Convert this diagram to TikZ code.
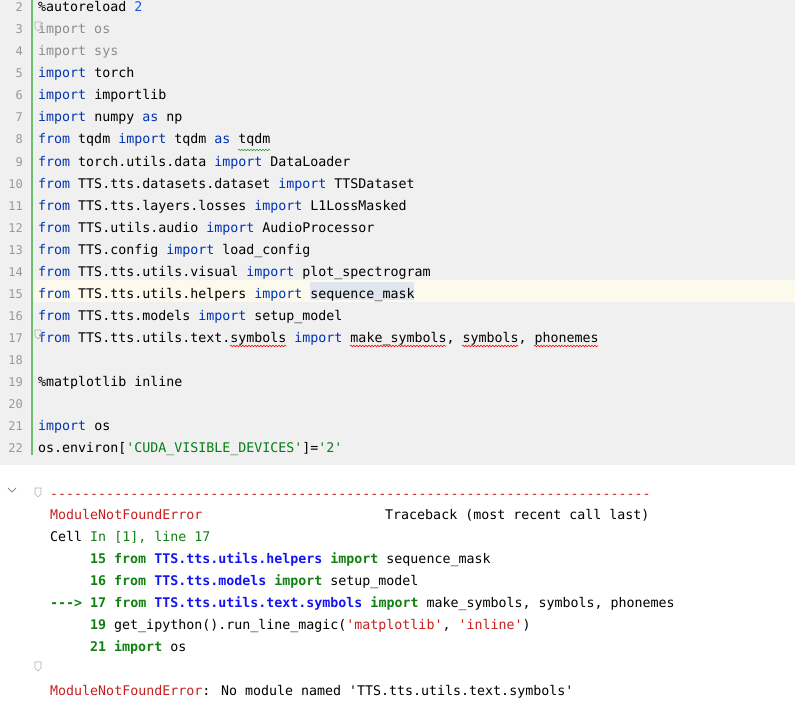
\documentclass[tikz,border=0pt]{standalone}
\usepackage{fontspec}
\newfontfamily\code{DejaVu Sans Mono}
\usetikzlibrary{decorations.pathmorphing}
\definecolor{bgc}{HTML}{F0F0F0}
\definecolor{kw}{HTML}{0033B3}
\definecolor{gr}{HTML}{8C8C8C}
\definecolor{num}{HTML}{1750EB}
\definecolor{str}{HTML}{067D17}
\definecolor{lno}{HTML}{999999}
\definecolor{hl}{HTML}{FCFAED}
\definecolor{selb}{HTML}{E1E5EE}
\definecolor{ored}{HTML}{C81E1E}
\definecolor{ogr}{HTML}{118011}
\definecolor{oblu}{HTML}{1414F0}
\definecolor{bar}{HTML}{6CBF6C}
\newcommand{\K}[1]{\textcolor{kw}{#1}}
\newcommand{\G}[1]{\textcolor{ogr}{\bfseries #1}}
\newcommand{\B}[1]{\textcolor{oblu}{\bfseries #1}}
\tikzset{x=1bp,y=-1bp,
 ln/.style={anchor=base east,text=lno,inner sep=0,font=\code\fontsize{12bp}{14bp}\selectfont},
 tx/.style={anchor=base west,inner sep=0,font=\code\fontsize{13.3bp}{22bp}\selectfont},
 wavyr/.style={draw=red,line width=0.6bp,decorate,decoration={snake,amplitude=0.8bp,segment length=3bp}},
 wavyg/.style={draw=ogr!80,line width=0.6bp,decorate,decoration={snake,amplitude=0.8bp,segment length=3bp}}}
\begin{document}
\begin{tikzpicture}
\useasboundingbox (0,0) rectangle (795,708);
\fill[bgc] (0,0) rectangle (795,465);
\fill[hl] (32,280) rectangle (795,302);
\fill[selb] (310,282) rectangle (414,300);
\fill[bar] (31,0) rectangle (33,455);
\foreach \n in {2,...,22}{\node[ln] (l\n) at (23,{7+(\n-2)*22+5}) {\n};}
\newcommand{\Ln}[2]{\node[tx] (c#1) at (38,{7+(#1-2)*22+5}) {#2};}
\Ln{2}{\%autoreload \textcolor{num}{2}}
\Ln{3}{\textcolor{gr}{import os}}
\Ln{4}{\textcolor{gr}{import sys}}
\Ln{5}{\K{import} torch}
\Ln{6}{\K{import} importlib}
\Ln{7}{\K{import} numpy \K{as} np}
\Ln{8}{\K{from} tqdm \K{import} tqdm \K{as} tqdm}
\Ln{9}{\K{from} torch.utils.data \K{import} DataLoader}
\Ln{10}{\K{from} TTS.tts.datasets.dataset \K{import} TTSDataset}
\Ln{11}{\K{from} TTS.tts.layers.losses \K{import} L1LossMasked}
\Ln{12}{\K{from} TTS.utils.audio \K{import} AudioProcessor}
\Ln{13}{\K{from} TTS.config \K{import} load\_config}
\Ln{14}{\K{from} TTS.tts.utils.visual \K{import} plot\_spectrogram}
\Ln{15}{\K{from} TTS.tts.utils.helpers \K{import} sequence\_mask}
\Ln{16}{\K{from} TTS.tts.models \K{import} setup\_model}
\Ln{17}{\K{from} TTS.tts.utils.text.symbols \K{import} make\_symbols, symbols, phonemes}
\Ln{19}{\%matplotlib inline}
\Ln{21}{\K{import} os}
\Ln{22}{os.environ[\textcolor{str}{'CUDA\_VISIBLE\_DEVICES'}]=\textcolor{str}{'2'}}
% wavy underlines
\draw[wavyg] (238,150) -- (270,150);
\foreach \a/\b in {230/286,350/446,462/518,534/598}{\draw[wavyr] (\a,346) -- (\b,346);}
% fold markers
\foreach \yy in {27,335,493,667}{\draw[gr!70,line width=0.6bp] (35,\yy-5) -- (41,\yy-5) -- (41,\yy+1) -- (38,\yy+4) -- (35,\yy+1) -- cycle;}
\draw[gr,line width=0.9bp] (8,488) -- (12,492) -- (16,488);
% output
\newcommand{\On}[4]{\node[tx] (o#1) at (#3,#2+5) {#4};}
\On{a}{493}{50}{\textcolor{ored}{---------------------------------------------------------------------------}}
\On{b}{514}{50}{\textcolor{ored}{ModuleNotFoundError}}
\On{c}{514}{385}{Traceback (most recent call last)}
\On{d}{536}{50}{Cell \textcolor{ogr}{In [1], line 17}}
\On{e}{558}{90}{\G{15} \G{from} \B{TTS.tts.utils.helpers} \G{import} sequence\_mask}
\On{f}{580}{90}{\G{16} \G{from} \B{TTS.tts.models} \G{import} setup\_model}
\On{g}{602}{50}{\G{---> 17} \G{from} \B{TTS.tts.utils.text.symbols} \G{import} make\_symbols, symbols, phonemes}
\On{h}{624}{90}{\G{19} get\_ipython().run\_line\_magic(\textcolor{ored}{'matplotlib'}, \textcolor{ored}{'inline'})}
\On{i}{646}{90}{\G{21} \G{import} os}
\On{j}{690}{50}{\textcolor{ored}{ModuleNotFoundError}: No module named 'TTS.tts.utils.text.symbols'}
\end{tikzpicture}
\end{document}
